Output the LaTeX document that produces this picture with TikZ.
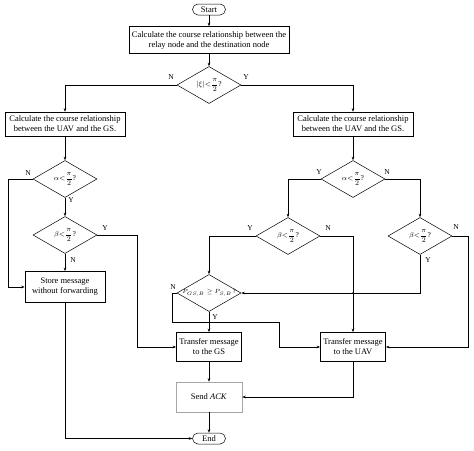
\documentclass[tikz,border=0pt]{standalone}
\usepackage{fontspec}
\setmainfont{Liberation Serif}
\usepackage{amsmath}
\usepackage{amssymb}
\usetikzlibrary{arrows.meta,shapes.geometric,positioning}

\newcommand{\condtext}[1]{\makebox[0pt]{#1}}

\begin{document}
\begin{tikzpicture}[
        x=1pt, y=-1pt,
        every node/.style={font=\fontsize{8.5}{10}\selectfont, align=center},
        every path/.style={line width=.5pt},
        >={Stealth[length=3.5pt,width=2.6pt]},
        terminal/.style={draw, rounded corners=5.5pt, minimum width=33pt, minimum height=11pt, inner sep=0pt},
        process/.style={draw, minimum height=24pt, inner sep=2pt},
        heavy/.style={process, line width=.8pt, minimum width=65pt, minimum height=29pt},
        decision/.style={draw, diamond, aspect=1.7, minimum width=64pt, minimum height=37pt, inner sep=0pt,
            font=\fontsize{7.5}{9}\selectfont},
        yn/.style={font=\fontsize{7.5}{8}\selectfont, inner sep=1pt}
    ]
    \useasboundingbox (0,0) rectangle (474,450);

    % Nodes
    \node[terminal] (start) at (209,9.5) {Start};
    \node[process, minimum width=160pt, minimum height=27pt] (calc) at (209,40)
        {Calculate the course relationship between the \\ relay node and the destination node};
    \node[decision] (xi) at (209,85) {\condtext{$|\xi|{<}\dfrac{\pi}{2}$?}};

    % left column
    \node[process, minimum width=120pt] (calcL) at (65,124)
        {Calculate the course relationship \\ between the UAV and the GS.};
    \node[decision] (alphaL) at (65,179) {\condtext{$\alpha{<}\dfrac{\pi}{2}$?}};
    \node[decision] (betaL) at (65,235) {\condtext{$\beta{<}\dfrac{\pi}{2}$?}};
    \node[heavy, minimum width=80pt, minimum height=31pt] (store) at (65,287)
        {Store message \\ without forwarding};

    % right column
    \node[process, minimum width=120pt] (calcR) at (353,124)
        {Calculate the course relationship \\ between the UAV and the GS.};
    \node[decision] (alphaR) at (353,179) {\condtext{$\alpha{<}\dfrac{\pi}{2}$?}};
    \node[decision] (betaA) at (288,236) {\condtext{$\beta{<}\dfrac{\pi}{2}$?}};
    \node[decision] (betaB) at (420,236) {\condtext{$\beta{<}\dfrac{\pi}{2}$?}};
    \node[decision, font=\fontsize{6.5}{8}\selectfont] (power) at (209,293)
        {\condtext{$P_{GS,B}\geq P_{S,B}$\,?}};
    \node[heavy] (toGS) at (209,347) {Transfer message \\ to the GS};
    \node[heavy] (toUAV) at (353,347) {Transfer message \\ to the UAV};
    \node[process, draw=gray!70, minimum width=66pt, minimum height=30pt] (ack) at (209,397) {Send \textit{ACK}};
    \node[terminal] (end) at (209,438.5) {End};
    \coordinate (bend) at (279,322);

    % Labels
    \node[yn] (xiN) at (171,77) {N};
    \node[yn] (xiY) at (246,77) {Y};
    \node[yn] (aLN) at (28,173) {N};
    \node[yn] (aLY) at (71,200) {Y};
    \node[yn] (bLY) at (105,228) {Y};
    \node[yn] (bLN) at (73,260) {N};
    \node[yn] (aRY) at (319,172) {Y};
    \node[yn] (aRN) at (387,172) {N};
    \node[yn] (bAY) at (250,228) {Y};
    \node[yn] (bAN) at (328,228) {N};
    \node[yn] (bBN) at (456,227) {N};
    \node[yn] (bBY) at (428,260) {Y};
    \node[yn] (pN) at (173,287) {N};
    \node[yn] (pY) at (215,317) {Y};

    % Edges
    \draw[->] (start) -- (calc);
    \draw[->] (calc) -- (xi);
    \draw[->] (xi.west) -| (calcL.north);
    \draw[->] (xi.east) -| (calcR.north);

    \draw[->] (calcL) -- (alphaL);
    \draw[->] (alphaL) -- (betaL);
    \draw[->] (betaL) -- (store);
    \draw[->] (alphaL.west) -- ++(-25,0) |- (store.west);
    \draw[->] (betaL.east) -- ++(40,0) |- (toGS.west);
    \draw[->] (store.south) |- (end.west);

    \draw[->] (calcR) -- (alphaR);
    \draw[->] (alphaR.west) -| (betaA.north);
    \draw[->] (alphaR.east) -| (betaB.north);
    \draw[->] (betaA.west) -| (power.north);
    \draw[->] (betaA.east) -| (toUAV.north);
    \draw[->] (betaB.south) |- (power.east);
    \draw[->] (betaB.east) -- ++(16,0) |- (toUAV.east);
    \fill (353,293) circle (.9pt);

    \draw[->] (power.south) -- (toGS.north);
    \draw[->] (power.west) -- ++(-5,0) |- (bend) |- (toUAV.west);
    \draw[->] (toGS) -- (ack);
    \draw[->] (toUAV.south) |- (ack.east);
    \draw[->] (ack) -- (end);

\end{tikzpicture}
\end{document}
